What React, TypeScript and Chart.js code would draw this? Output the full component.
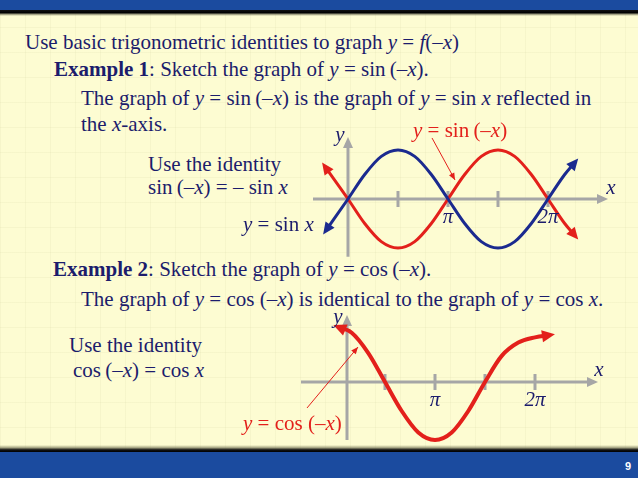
import React, { useEffect, useRef } from "react";
import { Chart, registerables } from "chart.js";

Chart.register(...registerables);

// ---------- data (x in multiples of π) ----------
const sinXs = [-0.22, 0, 0.167, 0.333, 0.5, 0.667, 0.833, 1, 1.167, 1.333, 1.5, 1.667, 1.833, 2, 2.167, 2.27];
const sinYs = [-0.64, 0, 0.5, 0.87, 1, 0.87, 0.5, 0, -0.5, -0.87, -1, -0.87, -0.5, 0, 0.5, 0.75];
const sinNegXs = [-0.23, 0, 0.167, 0.333, 0.5, 0.667, 0.833, 1, 1.167, 1.333, 1.5, 1.667, 1.833, 2, 2.167, 2.27];
const sinNegYs = [0.66, 0, -0.5, -0.87, -1, -0.87, -0.5, 0, 0.5, 0.87, 1, 0.87, 0.5, 0, -0.5, -0.75];
const cosNegXs = [0.03, 0.167, 0.333, 0.5, 0.667, 0.833, 1, 1.167, 1.333, 1.5, 1.667, 1.833, 2, 2.15];
const cosNegYs = [0.95, 0.85, 0.5, 0, -0.5, -0.87, -1, -0.87, -0.5, 0, 0.45, 0.68, 0.77, 0.81];
const tickValues = [0.5, 1, 1.5, 2];
const tickLabels = ["", "π", "", "2π"];

const NAVY = "#1c1c6c";
const RED = "#e3201b";
const BLUE = "#1b2a8f";
const AXIS = "#a6a6a6";
const SERIF = '"Liberation Serif", "Times New Roman", serif';
const FS = 21;

type Seg = [string, boolean];

function arrowHead(ctx: CanvasRenderingContext2D, x: number, y: number, dx: number, dy: number, L: number, W: number, color: string) {
  const n = Math.hypot(dx, dy) || 1;
  dx /= n; dy /= n;
  ctx.save();
  ctx.fillStyle = color;
  ctx.beginPath();
  ctx.moveTo(x, y);
  ctx.lineTo(x - dx * L - dy * W, y - dy * L + dx * W);
  ctx.lineTo(x - dx * L + dy * W, y - dy * L - dx * W);
  ctx.closePath();
  ctx.fill();
  ctx.restore();
}

function drawRich(ctx: CanvasRenderingContext2D, x: number, y: number, segs: Seg[], color: string, size: number, align: "left" | "center") {
  ctx.save();
  ctx.fillStyle = color;
  ctx.textBaseline = "alphabetic";
  ctx.textAlign = "left";
  const font = (it: boolean) => `${it ? "italic " : ""}${size}px ${SERIF}`;
  let total = 0;
  segs.forEach(([t, it]) => { ctx.font = font(it); total += ctx.measureText(t).width; });
  let cx = align === "center" ? x - total / 2 : x;
  segs.forEach(([t, it]) => { ctx.font = font(it); ctx.fillText(t, cx, y); cx += ctx.measureText(t).width; });
  ctx.restore();
}

type Label = { x: number; y: number; segs: Seg[]; color: string; align: "left" | "center" };
type Deco = {
  axis: { xFrom: number; xTo: number; yAt: number; yFrom: number; yTo: number };
  labels: Label[];
  pointer: [number, number, number, number];
};

function decoPlugin(deco: Deco) {
  return {
    id: "deco",
    beforeDatasetsDraw(chart: any) {
      const ctx: CanvasRenderingContext2D = chart.ctx;
      const px = (v: number) => chart.scales.x.getPixelForValue(v);
      const py = (v: number) => chart.scales.y.getPixelForValue(v);
      const a = deco.axis;
      ctx.save();
      ctx.strokeStyle = AXIS;
      ctx.lineWidth = 3;
      ctx.beginPath();
      ctx.moveTo(px(a.xFrom), py(0));
      ctx.lineTo(px(a.xTo) - 8, py(0));
      ctx.moveTo(px(a.yAt), py(a.yFrom));
      ctx.lineTo(px(a.yAt), py(a.yTo) + 8);
      tickValues.forEach((t) => {
        ctx.moveTo(px(t), py(0) - 8);
        ctx.lineTo(px(t), py(0) + 8);
      });
      ctx.stroke();
      ctx.restore();
      arrowHead(ctx, px(a.xTo), py(0), 1, 0, 11, 5, AXIS);
      arrowHead(ctx, px(a.yAt), py(a.yTo), 0, -1, 11, 5, AXIS);
    },
    afterDatasetsDraw(chart: any) {
      const ctx: CanvasRenderingContext2D = chart.ctx;
      const px = (v: number) => chart.scales.x.getPixelForValue(v);
      const py = (v: number) => chart.scales.y.getPixelForValue(v);
      chart.data.datasets.forEach((ds: any, i: number) => {
        const pts = chart.getDatasetMeta(i).data;
        const f = pts[0], s = pts[1];
        const l = pts[pts.length - 1], p = pts[pts.length - 2];
        let d1x = f.x - (f.cp2x ?? s.x), d1y = f.y - (f.cp2y ?? s.y);
        if (Math.hypot(d1x, d1y) < 0.5) { d1x = f.x - s.x; d1y = f.y - s.y; }
        let d2x = l.x - (l.cp1x ?? p.x), d2y = l.y - (l.cp1y ?? p.y);
        if (Math.hypot(d2x, d2y) < 0.5) { d2x = l.x - p.x; d2y = l.y - p.y; }
        const n1 = Math.hypot(d1x, d1y), n2 = Math.hypot(d2x, d2y);
        const L = ds.borderWidth > 3 ? 13 : 12, W = ds.borderWidth > 3 ? 6 : 5.5;
        arrowHead(ctx, f.x + (d1x / n1) * 5, f.y + (d1y / n1) * 5, d1x, d1y, L, W, ds.borderColor);
        arrowHead(ctx, l.x + (d2x / n2) * 5, l.y + (d2y / n2) * 5, d2x, d2y, L, W, ds.borderColor);
      });
      // tick labels
      tickValues.forEach((t, i) => {
        if (tickLabels[i]) drawRich(ctx, px(t), py(0) + 24, [[tickLabels[i], true]], NAVY, FS, "center");
      });
      deco.labels.forEach((lb) => drawRich(ctx, px(lb.x), py(lb.y), lb.segs, lb.color, FS, lb.align));
      // pointer
      const [x1, y1, x2, y2] = deco.pointer;
      const ax = px(x1), ay = py(y1), bx = px(x2), by = py(y2);
      ctx.save();
      ctx.strokeStyle = RED;
      ctx.lineWidth = 1;
      ctx.beginPath();
      ctx.moveTo(ax, ay);
      ctx.lineTo(bx, by);
      ctx.stroke();
      ctx.restore();
      arrowHead(ctx, bx, by, bx - ax, by - ay, 7, 3, RED);
    },
  };
}

function Graph(props: {
  left: number; top: number; width: number; height: number;
  xMin: number; xMax: number; yMin: number; yMax: number;
  datasets: any[]; deco: Deco;
}) {
  const ref = useRef<HTMLCanvasElement>(null);
  useEffect(() => {
    const chart = new Chart(ref.current as HTMLCanvasElement, {
      type: "line",
      data: { datasets: props.datasets },
      options: {
        responsive: false,
        maintainAspectRatio: false,
        animation: false,
        layout: { padding: 0 },
        plugins: { legend: { display: false }, tooltip: { enabled: false } },
        scales: {
          x: { type: "linear", min: props.xMin, max: props.xMax, display: false },
          y: { type: "linear", min: props.yMin, max: props.yMax, display: false },
        },
        elements: { point: { radius: 0 } },
      },
      plugins: [decoPlugin(props.deco)],
    } as any);
    return () => chart.destroy();
  }, []);
  return (
    <canvas
      ref={ref}
      width={props.width}
      height={props.height}
      style={{ position: "absolute", left: props.left, top: props.top, width: props.width, height: props.height }}
    />
  );
}

function T(props: { x: number; b: number; s?: number; c?: string; children: any }) {
  const s = props.s ?? FS;
  return (
    <div
      style={{
        position: "absolute",
        left: props.x,
        top: props.b - 0.8375 * s,
        fontSize: s,
        lineHeight: `${s}px`,
        color: props.c ?? NAVY,
        whiteSpace: "nowrap",
        fontFamily: SERIF,
      }}
    >
      {props.children}
    </div>
  );
}

const pts = (xs: number[], ys: number[]) => xs.map((x, i) => ({ x, y: ys[i] }));

export default function App() {
  const ds1 = [
    { data: pts(sinXs, sinYs), borderColor: BLUE, borderWidth: 3, cubicInterpolationMode: "monotone", fill: false, pointRadius: 0 },
    { data: pts(sinNegXs, sinNegYs), borderColor: RED, borderWidth: 3, cubicInterpolationMode: "monotone", fill: false, pointRadius: 0 },
  ];
  const ds2 = [
    { data: pts(cosNegXs, cosNegYs), borderColor: RED, borderWidth: 4, cubicInterpolationMode: "monotone", fill: false, pointRadius: 0 },
  ];
  const deco1: Deco = {
    axis: { xFrom: -0.35, xTo: 2.6, yAt: 0, yFrom: -1.18, yTo: 1.265 },
    labels: [
      { x: -0.08, y: 1.19, segs: [["y", true]], color: NAVY, align: "center" },
      { x: 2.63, y: 0.1, segs: [["x", true]], color: NAVY, align: "center" },
      { x: 0.65, y: 1.26, segs: [["y", true], [" = sin\u2009(–", false], ["x", true], [")", false]], color: RED, align: "left" },
      { x: -1.05, y: -0.653, segs: [["y", true], [" = sin ", false], ["x", true]], color: NAVY, align: "left" },
    ],
    pointer: [0.84, 1.245, 1.07, 0.388],
  };
  const deco2: Deco = {
    axis: { xFrom: -0.34, xTo: 2.63, yAt: 0.12, yFrom: -1.0, yTo: 1.155 },
    labels: [
      { x: 0.03, y: 1.02, segs: [["y", true]], color: NAVY, align: "center" },
      { x: 2.64, y: 0.1, segs: [["x", true]], color: NAVY, align: "center" },
      { x: -0.92, y: -0.83, segs: [["y", true], [" = cos (–", false], ["x", true], [")", false]], color: RED, align: "left" },
    ],
    pointer: [-0.28, -0.448, 0.23, 0.603],
  };

  return (
    <div
      style={{
        position: "fixed",
        left: 0,
        top: 0,
        width: 638,
        height: 478,
        overflow: "hidden",
        backgroundColor: "#fdfcd2",
        backgroundImage:
          "repeating-linear-gradient(90deg, rgba(200,200,150,0.13) 0px, rgba(200,200,150,0.13) 1px, transparent 1px, transparent 25px), repeating-linear-gradient(0deg, rgba(200,200,150,0.13) 0px, rgba(200,200,150,0.13) 1px, transparent 1px, transparent 25px)",
      }}
    >
      <div style={{ position: "absolute", left: 0, top: 0, width: 638, height: 10, background: "#1b4b9f" }} />
      <div style={{ position: "absolute", left: 0, top: 10, width: 638, height: 6, background: "linear-gradient(#111 0%, #000 45%, rgba(80,80,60,0.5) 75%, rgba(253,252,210,0) 100%)" }} />
      <div style={{ position: "absolute", left: 0, top: 445, width: 638, height: 7, background: "linear-gradient(rgba(253,252,210,0) 0%, rgba(120,120,90,0.6) 35%, #111 70%, #000 100%)" }} />
      <div style={{ position: "absolute", left: 0, top: 452, width: 638, height: 26, background: "#1b4b9f" }} />
      <div style={{ position: "absolute", left: 622, top: 459, width: 12, textAlign: "center", color: "#fff", fontWeight: "bold", fontSize: 11, lineHeight: "14px", fontFamily: '"Liberation Sans", Arial, sans-serif' }}>9</div>

      <T x={25} b={50}>Use basic trigonometric identities to graph <i>y</i> = <i>f</i>(–<i>x</i>)</T>
      <T x={54} b={77}><b>Example 1</b>: Sketch the graph of <i>y</i> = sin{"\u2009"}(–<i>x</i>).</T>
      <T x={81} b={106}>The graph of <i>y</i> = sin{"\u2009"}(–<i>x</i>) is the graph of <i>y</i> = sin <i>x</i> reflected in</T>
      <T x={81} b={132}>the <i>x</i>-axis.</T>
      <T x={148} b={172}>Use the identity</T>
      <T x={148} b={195}>sin{"\u2009"}(–<i>x</i>) = – sin <i>x</i></T>

      <T x={53} b={277}><b>Example 2</b>: Sketch the graph of <i>y</i> = cos{"\u2009"}(–<i>x</i>).</T>
      <T x={81} b={307}>The graph of <i>y</i> = cos (–<i>x</i>) is identical to the graph of <i>y</i> = cos <i>x</i>.</T>
      <T x={69} b={353}>Use the identity</T>
      <T x={73} b={378}>cos{"\u2009"}(–<i>x</i>) = cos <i>x</i></T>

      <Graph left={230} top={120} width={395} height={145} xMin={-1.18} xMax={2.77} yMin={-1.347} yMax={1.612} datasets={ds1} deco={deco1} />
      <Graph left={230} top={305} width={395} height={143} xMin={-1.05} xMax={2.9} yMin={-1.138} yMax={1.328} datasets={ds2} deco={deco2} />
    </div>
  );
}
